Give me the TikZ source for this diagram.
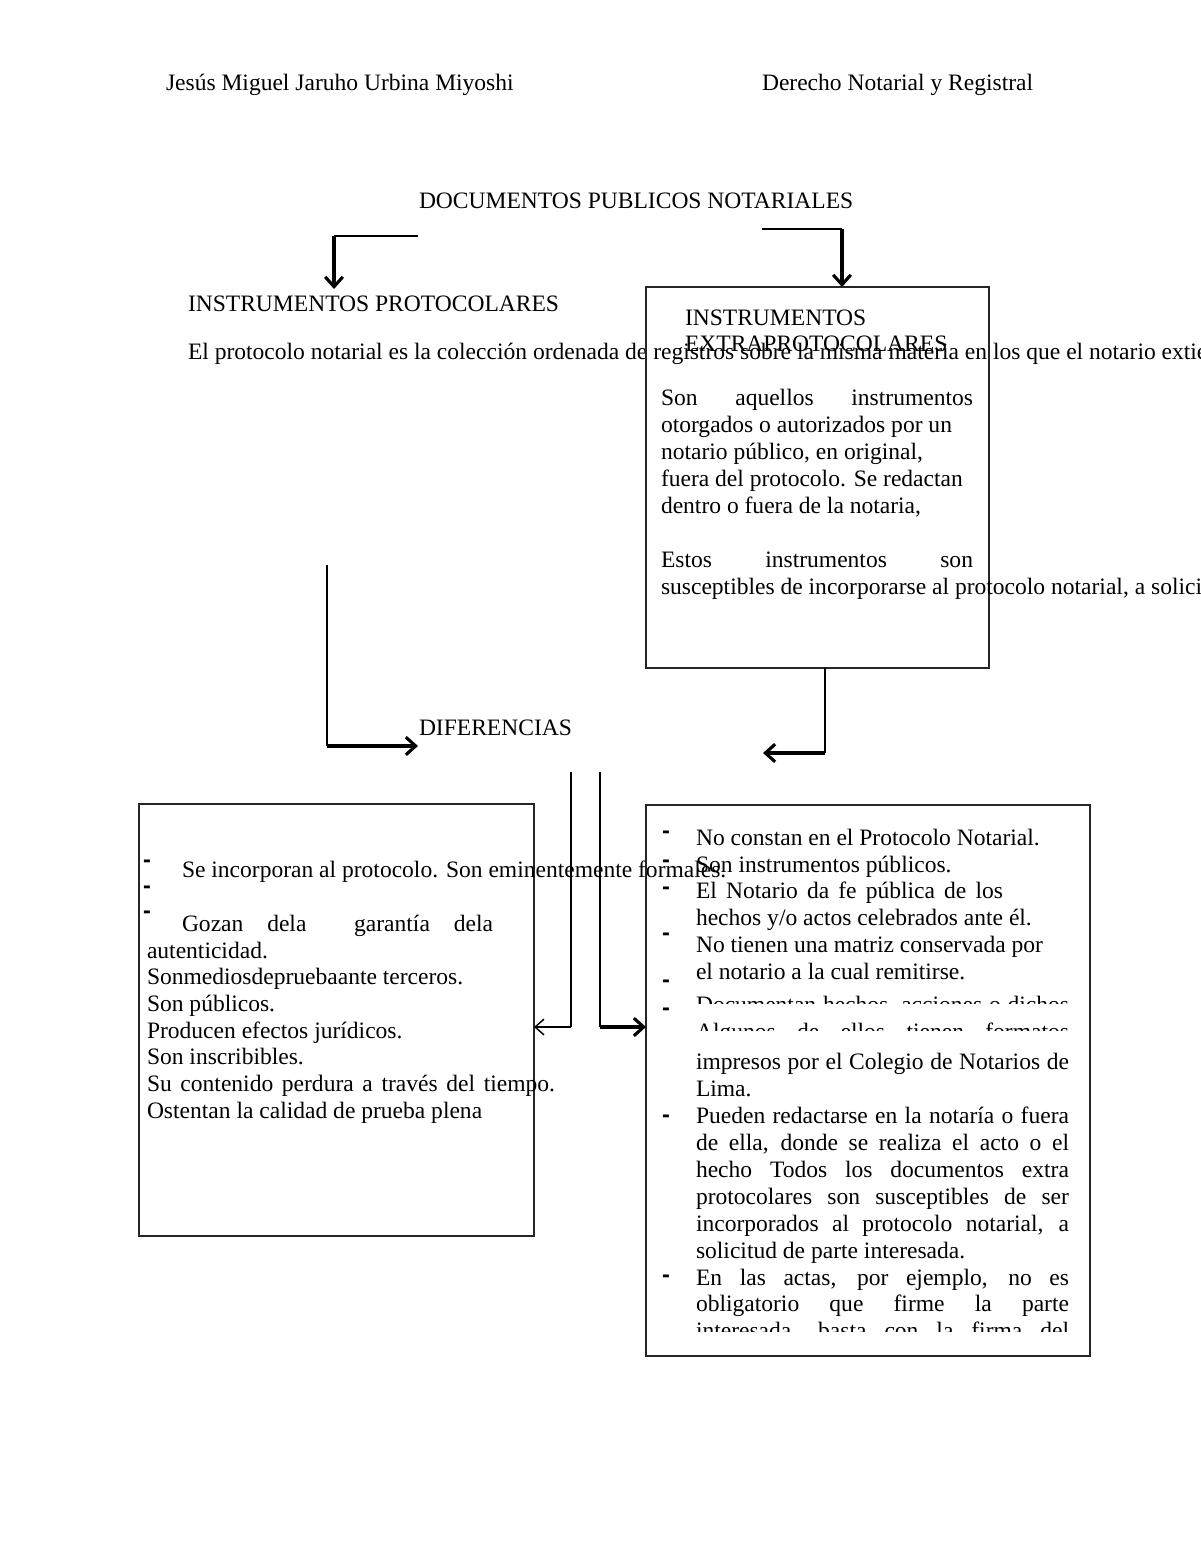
\documentclass[tikz,border=0pt]{standalone}
\usepackage{fontspec}
\setmainfont{Liberation Serif}
\newfontfamily\dashfont{Liberation Sans}
\usetikzlibrary{arrows.meta,fit}
\newlength\pxu
\setlength\pxu{0.51pt}
\newcommand\jline[2]{\makebox[#1\pxu][s]{#2}}
\begin{document}
\begin{tikzpicture}[x=0.51pt,y=-0.51pt,
  txt/.style={anchor=base west,inner sep=0pt,outer sep=0pt,font=\fontsize{12}{14}\selectfont},
  dashmark/.style={anchor=base west,inner sep=0pt,outer sep=0pt,font=\dashfont\fontsize{12}{14}\selectfont\bfseries},
  box/.style={draw=black!85,line width=0.9pt,inner sep=0pt,outer sep=0pt},
  thinl/.style={line width=0.75pt},
  thinarrow/.style={line width=0.75pt,-{Straight Barb[length=4.5pt,width=8pt,line width=0.75pt]}},
  thkarrow/.style={line width=1.6pt,-{Straight Barb[length=5pt,width=9pt]}}]
\useasboundingbox (0,0) rectangle (1200,1553);
\begin{scope}
\clip (0,0) rectangle (1200,1553);

% header
\node[txt] (hleft) at (166,91) {Jesús Miguel Jaruho Urbina Miyoshi};
\node[txt] (hright) at (762,91) {Derecho Notarial y Registral};

% title
\node[txt] (docs) at (419,209) {DOCUMENTOS PUBLICOS NOTARIALES};

% left column
\node[txt] (prot) at (188,311) {INSTRUMENTOS PROTOCOLARES};
\node[txt] (protdef) at (188,359) {El protocolo notarial es la colección ordenada de registros sobre la misma materia en los que el notario extiende};

% extraprotocolar box
\node[box,fit={(646,287) (989,668)}] (extrabox) {};
\node[txt] (ex1) at (685,325) {INSTRUMENTOS};
\node[txt] (ex2) at (685,351) {EXTRAPROTOCOLARES};
\node[txt] (ex3) at (661,405) {\jline{312}{Son aquellos instrumentos}};
\node[txt] (ex4) at (661,432) {otorgados o autorizados por un};
\node[txt] (ex5) at (661,459) {notario público, en original,};
\node[txt] (ex6) at (661,486) {fuera del protocolo. Se redactan};
\node[txt] (ex7) at (661,513) {dentro o fuera de la notaria,};
\node[txt] (ex8) at (661,567) {\jline{312}{Estos instrumentos son}};
\node[txt] (ex9) at (661,594) {susceptibles de incorporarse al protocolo notarial, a solicitud};

% DIFERENCIAS
\node[txt] (dif) at (419,735) {DIFERENCIAS};

% left bottom box
\node[box,fit={(139,804) (534,1236)}] (leftbox) {};
\node[dashmark] (ld1) at (143,867) {-};
\node[dashmark] (ld2) at (143,893) {-};
\node[dashmark] (ld3) at (143,918) {-};
\node[txt] (l1) at (182,877) {Se incorporan al protocolo. Son eminentemente formales.};
\node[txt] (l2) at (182,931) {\jline{311}{Gozan dela \ garantía dela}};
\node[txt] (l3) at (147,958) {autenticidad.};
\node[txt] (l4) at (147,984) {Sonmediosdepruebaante terceros.};
\node[txt] (l5) at (147,1011) {Son públicos.};
\node[txt] (l6) at (147,1038) {Producen efectos jurídicos.};
\node[txt] (l7) at (147,1064) {Son inscribibles.};
\node[txt] (l8) at (147,1091) {\jline{408}{Su contenido perdura a través del tiempo.}};
\node[txt] (l9) at (147,1118) {Ostentan la calidad de prueba plena};

% right bottom box
\node[box,fit={(646,805) (1090,1356)}] (rightbox) {};
\node[dashmark] (rd1) at (662,838) {-};
\node[dashmark] (rd2) at (662,867) {-};
\node[dashmark] (rd3) at (662,894) {-};
\node[dashmark] (rd4) at (662,940) {-};
\node[dashmark] (rd5) at (662,987) {-};
\node[dashmark] (rd6) at (662,1015) {-};
\node[dashmark] (rd7) at (662,1122) {-};
\node[dashmark] (rd8) at (662,1282) {-};
\node[txt] (r1) at (696,845) {No constan en el Protocolo Notarial.};
\node[txt] (r2) at (696,872) {Son instrumentos públicos.};
\node[txt] (r3) at (696,898) {\jline{307}{El Notario da fe pública de los}};
\node[txt] (r4) at (696,925) {hechos y/o actos celebrados ante él.};
\node[txt] (r5) at (696,952) {No tienen una matriz conservada por};
\node[txt] (r6) at (696,979) {el notario a la cual remitirse.};
\begin{scope}
\clip (690,990) rectangle (1080,1003);
\node[txt] (r7) at (696,1012) {\jline{373}{Documentan hechos, acciones o dichos}};
\end{scope}
\begin{scope}
\clip (690,1017) rectangle (1080,1030);
\node[txt] (r8) at (696,1039) {\jline{373}{Algunos de ellos tienen formatos}};
\end{scope}
\node[txt] (r9) at (696,1069) {\jline{373}{impresos por el Colegio de Notarios de}};
\node[txt] (r10) at (696,1096) {Lima.};
\node[txt] (r11) at (696,1123) {\jline{373}{Pueden redactarse en la notaría o fuera}};
\node[txt] (r12) at (696,1150) {\jline{373}{de ella, donde se realiza el acto o el}};
\node[txt] (r13) at (696,1177) {\jline{373}{hecho Todos los documentos extra}};
\node[txt] (r14) at (696,1204) {\jline{373}{protocolares son susceptibles de ser}};
\node[txt] (r15) at (696,1231) {\jline{373}{incorporados al protocolo notarial, a}};
\node[txt] (r16) at (696,1258) {solicitud de parte interesada.};
\node[txt] (r17) at (696,1285) {\jline{373}{En las actas, por ejemplo, no es}};
\node[txt] (r18) at (696,1311) {\jline{373}{obligatorio que firme la parte}};
\begin{scope}
\clip (690,1315) rectangle (1080,1331);
\node[txt] (r19) at (696,1338) {\jline{373}{interesada, basta con la firma del}};
\end{scope}

% connectors
\coordinate (tl1) at (418,236);
\coordinate (tl2) at (334,236);
\coordinate (tl3) at (334,289);
\draw[thinl] (tl1) -- (tl2);
\draw[thkarrow] (tl2) -- (tl3);

\coordinate (tr1) at (762,229);
\coordinate (tr2) at (842,229);
\draw[thinl] (tr1) -- (tr2);
\draw[thkarrow] (tr2) -- (tr2 |- extrabox.north);

\coordinate (dl1) at (327,565);
\coordinate (dl2) at (327,746);
\coordinate (dl3) at (418,746);
\draw[thinl] (dl1) -- (dl2);
\draw[thkarrow] (dl2) -- (dl3);

\coordinate (dr1) at (825,668);
\coordinate (dr2) at (825,753);
\coordinate (dr3) at (763,753);
\draw[thinl] (extrabox.south -| dr1) -- (dr2);
\draw[thkarrow] (dr2) -- (dr3);

\coordinate (bl1) at (571,772);
\coordinate (bl2) at (571,1027);
\draw[thinl] (bl1) -- (bl2);
\draw[thinarrow] (bl2) -- (bl2 -| leftbox.east);

\coordinate (br1) at (600,772);
\coordinate (br2) at (600,1027);
\draw[thinl] (br1) -- (br2);
\draw[thkarrow] (br2) -- (br2 -| rightbox.west);
\end{scope}
\end{tikzpicture}
\end{document}
